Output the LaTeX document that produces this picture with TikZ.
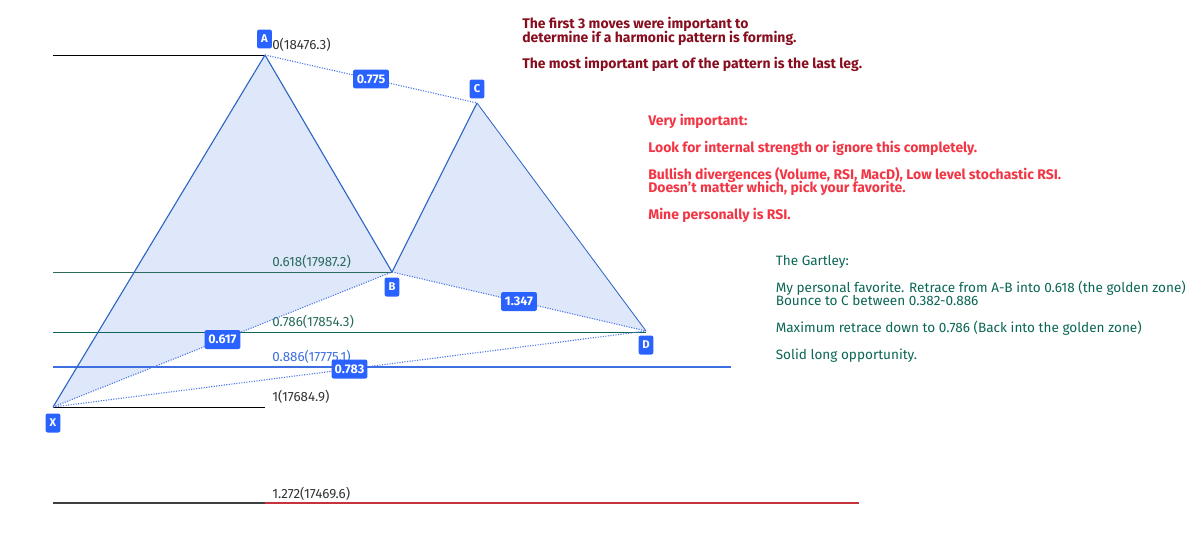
\documentclass[tikz,border=0pt]{standalone}
\usepackage{fontspec}
\setmainfont{Fira Sans}
\definecolor{legblue}{HTML}{2F66C4}
\definecolor{tagblue}{HTML}{2962FF}
\definecolor{areablue}{HTML}{DFE8FB}
\definecolor{dotblue}{HTML}{4F78E8}
\definecolor{darkred}{HTML}{880E1F}
\definecolor{brightred}{HTML}{F23645}
\definecolor{deepgreen}{HTML}{0B6655}
\definecolor{lvlgreen}{HTML}{2A6B5C}
\definecolor{lvlblue}{HTML}{3D6FE0}
\definecolor{lvlred}{HTML}{C8323C}
\setlength{\lineskiplimit}{-8pt}
\tikzset{
  ptag/.style={fill=tagblue,text=white,rounded corners=1.5pt,minimum width=10.5pt,minimum height=13.5pt,inner sep=0pt,font=\fontsize{8}{9}\selectfont\bfseries},
  rtag/.style={ptag,minimum width=25.5pt,font=\fontsize{8.9}{9}\selectfont\bfseries},
  lvl/.style={anchor=west,inner sep=0pt,font=\fontsize{9.5}{10}\selectfont},
  note/.style={anchor=north west,align=left,inner sep=0pt,font=\fontsize{9.65}{9.56}\selectfont},
  boldnote/.style={note,font=\fontsize{9.93}{9.56}\selectfont\bfseries},
  legline/.style={draw=legblue,line width=0.8pt},
  dotline/.style={draw=dotblue,line width=0.8pt,densely dotted}
}
\begin{document}
\begin{tikzpicture}[x=0.025cm,y=-0.025cm]
\useasboundingbox (0,0) rectangle (1200,541);

\coordinate (X) at (53,407);
\coordinate (A) at (265,55);
\coordinate (B) at (392,272);
\coordinate (C) at (477,103);
\coordinate (D) at (646,331);

\fill[areablue] (X) -- (A) -- (B) -- cycle;
\fill[areablue] (B) -- (C) -- (D) -- cycle;

% levels
\coordinate (s0) at (53,55);
\coordinate (s618) at (53,272.5);
\coordinate (e618) at (392,272.5);
\coordinate (s786) at (53,332.5);
\coordinate (e786) at (646,332.5);
\coordinate (s886) at (53,367);
\coordinate (e886) at (731,367);
\coordinate (e1) at (265,407.5);
\coordinate (x1) at (53,407.5);
\coordinate (s127) at (53,503);
\coordinate (m127) at (265,503);
\coordinate (e127) at (859,503);

\draw[black,line width=0.6pt] (s0) to (A);
\draw[lvlgreen,line width=0.6pt] (s618) to (e618);
\draw[deepgreen,line width=0.6pt] (s786) to (e786);
\draw[lvlblue,line width=1pt] (s886) to (e886);
\draw[black,line width=0.6pt] (x1) to (e1);
\draw[black!75,line width=1pt] (s127) to (m127);
\draw[lvlred,line width=1pt] (m127) to (e127);

\node[lvl,text=black!80] at (272,45) (l0) {0(18476.3)};
\node[lvl,text=lvlgreen] at (272,262) (l618) {0.618(17987.2)};
\node[lvl,text=lvlgreen] at (272,322) (l786) {0.786(17854.3)};
\node[lvl,text=lvlblue] at (272,357) (l886) {0.886(17775.1)};
\node[lvl,text=black!80] at (272,397) (l1) {1(17684.9)};
\node[lvl,text=black!80] at (272,494) (l127) {1.272(17469.6)};

% legs
\path[legline] (X) to (A);
\path[legline] (A) to (B);
\path[legline] (B) to (C);
\path[legline,line width=0.6pt] (C) to (D);

\path[dotline] (A) to node[rtag] (r775) {0.775} (C);
\path[dotline] (X) to node[rtag] (r617) {0.617} (B);
\path[dotline] (X) to node[rtag] (r783) {0.783} (D);
\path[dotline] (B) to node[rtag] (r134) {1.347} (D);

\node[ptag] at (264.5,39) (tA) {A};
\node[ptag] at (477,89) (tC) {C};
\node[ptag] at (392,287) (tB) {B};
\node[ptag] at (53,423) (tX) {X};
\node[ptag] at (646,345) (tD) {D};

\node[boldnote,text=darkred] at (522,17) (n1) {The first 3 moves were important to\\determine if a harmonic pattern is forming.\\[9.56pt]The most important part of the pattern is the last leg.};
\node[boldnote,text=brightred] at (648,114) (n2) {Very important:\\[9.56pt]Look for internal strength or ignore this completely.\\[9.56pt]Bullish divergences (Volume, RSI, MacD), Low level stochastic RSI.\\Doesn't matter which, pick your favorite.\\[9.56pt]Mine personally is RSI.};
\node[note,text=deepgreen] at (775.5,255) (n3) {The Gartley:\\[9.56pt]My personal favorite. Retrace from A-B into 0.618 (the golden zone)\\Bounce to C between 0.382-0.886\\[9.56pt]Maximum retrace down to 0.786 (Back into the golden zone)\\[9.56pt]Solid long opportunity.};

\end{tikzpicture}
\end{document}
